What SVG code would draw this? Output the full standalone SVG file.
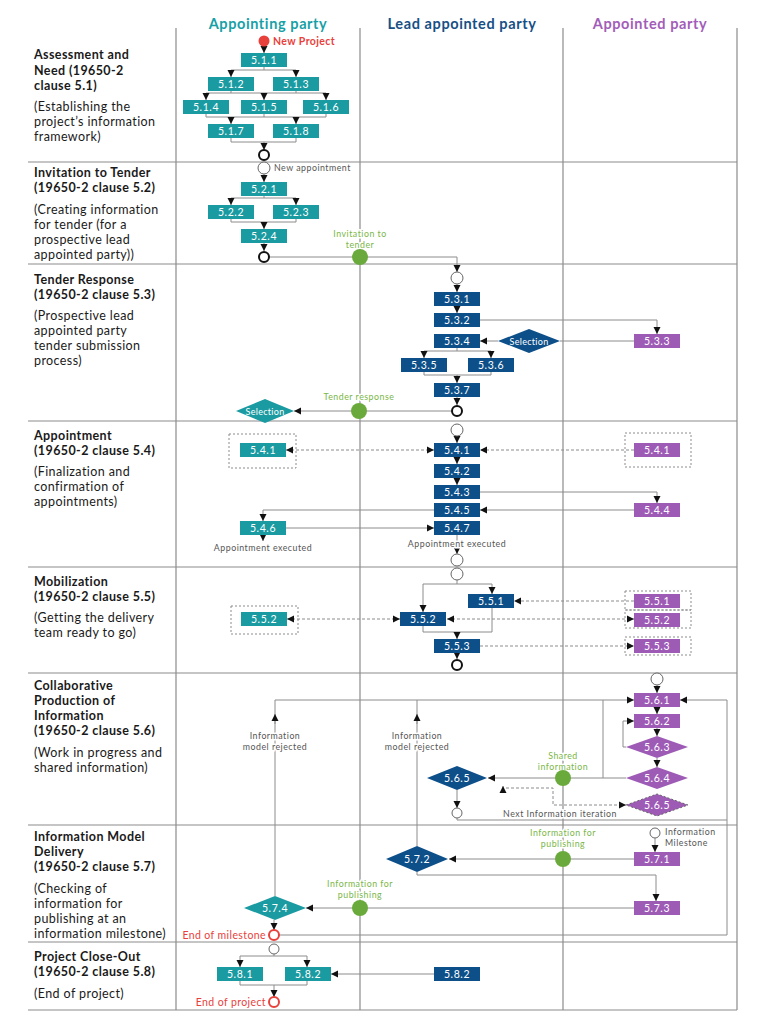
<svg xmlns="http://www.w3.org/2000/svg" width="768" height="1024" viewBox="0 0 768 1024">
<defs>
<style>
text{font-family:Lato,"Open Sans",sans-serif}
.sep{stroke:#8c8c8c;stroke-width:1.2;fill:none}
.c{stroke:#8c8c8c;stroke-width:1;fill:none}
.a{stroke:#8c8c8c;stroke-width:1;fill:none;marker-end:url(#ah)}
.d{stroke:#8c8c8c;stroke-width:1;fill:none;stroke-dasharray:3 2}
.db{stroke:#8c8c8c;stroke-width:1;fill:none;stroke-dasharray:2 2}
.t{fill:#1a9aa1}
.b{fill:#0d4f88}
.p{fill:#9d5bb5}
.nl{fill:#fff;font-size:10.5px;letter-spacing:0.6px;text-anchor:middle}
.sl{fill:#fff;font-size:9px;letter-spacing:0.3px;text-anchor:middle}
.h{font-size:14.5px;font-weight:bold;letter-spacing:0.6px;text-anchor:middle}
.st{font-size:12.5px;font-weight:bold;fill:#1a1a1a;letter-spacing:0.4px}
.sd{font-size:12.5px;fill:#1a1a1a;letter-spacing:0.4px}
.g{fill:#7ab648;font-size:8.8px;letter-spacing:0.5px;text-anchor:middle;stroke:#fff;stroke-width:3;paint-order:stroke}
.gl{fill:#555;font-size:8.8px;letter-spacing:0.5px;text-anchor:middle;stroke:#fff;stroke-width:3;paint-order:stroke}
.sm{fill:#555;font-size:8.8px;letter-spacing:0.5px}
.r{fill:#e8413c;font-size:10.5px;letter-spacing:0.4px}
.gc{fill:#6aaa3c}
.sc{fill:#fff;stroke:#666;stroke-width:1}
.ec{fill:#fff;stroke:#111;stroke-width:2}
.rc{fill:#fff;stroke:#e8413c;stroke-width:2}
</style>
<marker id="ah" markerWidth="8" markerHeight="8" refX="7" refY="4" orient="auto-start-reverse" markerUnits="userSpaceOnUse"><path d="M0,0.5 L7,4 L0,7.5 z" fill="#111"/></marker>
</defs>
<rect width="768" height="1024" fill="#fff"/>

<g id="grid">
<path class="sep" d="M176,28V1010M360,28V1010M563,28V1010M737,28V1010"/>
<path class="sep" d="M28,162H737M28,264H737M28,421H737M28,567H737M28,673H737M28,825H737M28,942H737M28,1010H737"/>
</g>

<g id="headers">
<text class="h" x="268" y="29" fill="#17a0a6">Appointing party</text>
<text class="h" x="462" y="29" fill="#174f85">Lead appointed party</text>
<text class="h" x="650" y="29" fill="#a25db8">Appointed party</text>
</g>

<g id="stages">
<text class="st" x="34" y="59">Assessment and</text>
<text class="st" x="34" y="75">Need (19650-2</text>
<text class="st" x="34" y="90">clause 5.1)</text>
<text class="sd" x="34" y="111">(Establishing the</text>
<text class="sd" x="34" y="126">project’s information</text>
<text class="sd" x="34" y="141">framework)</text>

<text class="st" x="34" y="177">Invitation to Tender</text>
<text class="st" x="34" y="192">(19650-2 clause 5.2)</text>
<text class="sd" x="34" y="214">(Creating information</text>
<text class="sd" x="34" y="229">for tender (for a</text>
<text class="sd" x="34" y="244">prospective lead</text>
<text class="sd" x="34" y="259">appointed party))</text>

<text class="st" x="34" y="284">Tender Response</text>
<text class="st" x="34" y="299">(19650-2 clause 5.3)</text>
<text class="sd" x="34" y="320">(Prospective lead</text>
<text class="sd" x="34" y="335">appointed party</text>
<text class="sd" x="34" y="350">tender submission</text>
<text class="sd" x="34" y="365">process)</text>

<text class="st" x="34" y="440">Appointment</text>
<text class="st" x="34" y="455">(19650-2 clause 5.4)</text>
<text class="sd" x="34" y="476">(Finalization and</text>
<text class="sd" x="34" y="491">confirmation of</text>
<text class="sd" x="34" y="506">appointments)</text>

<text class="st" x="34" y="586">Mobilization</text>
<text class="st" x="34" y="601">(19650-2 clause 5.5)</text>
<text class="sd" x="34" y="622">(Getting the delivery</text>
<text class="sd" x="34" y="637">team ready to go)</text>

<text class="st" x="34" y="690">Collaborative</text>
<text class="st" x="34" y="705">Production of</text>
<text class="st" x="34" y="720">Information</text>
<text class="st" x="34" y="735">(19650-2 clause 5.6)</text>
<text class="sd" x="34" y="757">(Work in progress and</text>
<text class="sd" x="34" y="772">shared information)</text>

<text class="st" x="34" y="841">Information Model</text>
<text class="st" x="34" y="856">Delivery</text>
<text class="st" x="34" y="871">(19650-2 clause 5.7)</text>
<text class="sd" x="34" y="893">(Checking of</text>
<text class="sd" x="34" y="908">information for</text>
<text class="sd" x="34" y="923">publishing at an</text>
<text class="sd" x="34" y="938">information milestone)</text>

<text class="st" x="34" y="961">Project Close-Out</text>
<text class="st" x="34" y="976">(19650-2 clause 5.8)</text>
<text class="sd" x="34" y="998">(End of project)</text>
</g>

<g id="connectors">
<path class="a" d="M264,46V53"/>
<path class="c" d="M264,67V70M231,70H296"/>
<path class="a" d="M231,70V77"/><path class="a" d="M296,70V77"/>
<path class="c" d="M231,91V93M296,91V93M206,93H326"/>
<path class="a" d="M206,93V100"/><path class="a" d="M264,93V100"/><path class="a" d="M326,93V100"/>
<path class="c" d="M206,114V117M264,114V117M326,114V117M206,117H326"/>
<path class="a" d="M231,117V124"/><path class="a" d="M296,117V124"/>
<path class="c" d="M231,138V142M296,138V142M231,142H296"/>
<path class="a" d="M264,142V150"/>
<path class="a" d="M264,174V182"/>
<path class="c" d="M264,196V198M231,198H296"/>
<path class="a" d="M231,198V205"/><path class="a" d="M296,198V205"/>
<path class="c" d="M231,219V222M296,219V222M231,222H296"/>
<path class="a" d="M264,222V229"/>
<path class="a" d="M264,243V251"/>
<path class="a" d="M269,257H457V272"/>
<path class="a" d="M457,284V292"/>
<path class="a" d="M457,306V313"/>
<path class="a" d="M480,320H657V334"/>
<path class="c" d="M634,341H560"/>
<path class="a" d="M498,341H480"/>
<path class="c" d="M457,348V351M424,351H491"/>
<path class="a" d="M424,351V358"/><path class="a" d="M491,351V358"/>
<path class="c" d="M424,372V375M491,372V375M424,375H491"/>
<path class="a" d="M457,375V383"/>
<path class="a" d="M457,397V405"/>
<path class="a" d="M451,411H294"/>
<path class="a" d="M457,436V443"/>
<path class="a" d="M457,457V464"/>
<path class="a" d="M457,478V485"/>
<path class="a" d="M480,492H657V503"/>
<path class="a" d="M634,510H480"/>
<path class="a" d="M434,510H263V521"/>
<path class="a" d="M286,528H434"/>
<path class="a" d="M263,535V541"/>
<path class="a" d="M457,535V554"/>
<path class="d" d="M286,450H434" marker-start="url(#ah)" marker-end="url(#ah)"/>
<path class="d" d="M634,450H480" marker-end="url(#ah)"/>
<path class="c" d="M457,580V584M423,584H492"/>
<path class="a" d="M423,584V612"/>
<path class="a" d="M492,584V594"/>
<path class="c" d="M423,626V632H492V608"/>
<path class="a" d="M457,632V639"/>
<path class="a" d="M457,653V659"/>
<path class="d" d="M287,619H400" marker-start="url(#ah)" marker-end="url(#ah)"/>
<path class="d" d="M447,619H634" marker-start="url(#ah)" marker-end="url(#ah)"/>
<path class="d" d="M634,601H514" marker-end="url(#ah)"/>
<path class="d" d="M480,646H634" marker-end="url(#ah)"/>
<path class="a" d="M657,685V693"/>
<path class="a" d="M657,707V714"/>
<path class="a" d="M657,728V736"/>
<path class="a" d="M657,758V767"/>
<path class="a" d="M626,747H623V721H634"/>
<path class="a" d="M275,896V700H634"/>
<path class="c" d="M417,846V700"/>
<path class="a" d="M275,724V714"/>
<path class="a" d="M417,724V714"/>
<path class="c" d="M603,700V778"/>
<path class="a" d="M727,700H680"/>
<path class="a" d="M626,778H488"/>
<path class="d" d="M503,786V788H553V805H626" marker-start="url(#ah)" marker-end="url(#ah)"/>
<path class="a" d="M457,790V808"/>
<path class="c" d="M457,818V820H727M727,700V935H279"/>
<path class="a" d="M655,838V852"/>
<path class="a" d="M634,859H449"/>
<path class="a" d="M417,872V875H656V901"/>
<path class="a" d="M634,908H306"/>
<path class="a" d="M274,920V930"/>
<path class="c" d="M274,954V956M240,956H307"/>
<path class="a" d="M240,956V967"/><path class="a" d="M307,956V967"/>
<path class="c" d="M240,981V985M307,981V985M240,985H307"/>
<path class="a" d="M274,985V997"/>
<path class="a" d="M434,974H331"/>
</g>

<g id="events">
<circle cx="264" cy="41" r="5.5" fill="#e8413c"/>
<text class="r" x="273" y="45" font-weight="bold" font-size="12">New Project</text>
<circle class="ec" cx="264" cy="155" r="5"/>
<circle class="sc" cx="264" cy="168" r="6"/>
<text class="sm" x="274" y="171">New appointment</text>
<circle class="ec" cx="264" cy="257" r="5"/>
<circle class="sc" cx="457" cy="278" r="6"/>
<circle class="ec" cx="457" cy="411" r="5"/>
<circle class="sc" cx="457" cy="430" r="6"/>
<circle class="sc" cx="457" cy="560" r="6"/>
<circle class="sc" cx="457" cy="574" r="6"/>
<circle class="ec" cx="457" cy="665" r="5"/>
<circle class="sc" cx="657" cy="679" r="6"/>
<circle class="sc" cx="457" cy="813" r="5"/>
<circle class="sc" cx="655" cy="833" r="5"/>
<text class="sm" x="665" y="835">Information</text>
<text class="sm" x="665" y="846">Milestone</text>
<circle class="rc" cx="274" cy="935" r="5"/>
<text class="r" x="266" y="939" text-anchor="end">End of milestone</text>
<circle class="sc" cx="274" cy="949" r="5"/>
<circle class="rc" cx="274" cy="1002" r="5"/>
<text class="r" x="266" y="1006" text-anchor="end">End of project</text>
</g>

<g id="exchanges">
<text class="g" x="360" y="237">Invitation to</text>
<text class="g" x="360" y="248">tender</text>
<circle class="gc" cx="360" cy="257" r="8"/>
<text class="g" x="359" y="400">Tender response</text>
<circle class="gc" cx="359" cy="411" r="8"/>
<text class="g" x="563" y="759">Shared</text>
<text class="g" x="563" y="770">information</text>
<circle class="gc" cx="563" cy="778" r="8"/>
<text class="g" x="563" y="836">Information for</text>
<text class="g" x="563" y="847">publishing</text>
<circle class="gc" cx="563" cy="859" r="8"/>
<text class="g" x="360" y="887">Information for</text>
<text class="g" x="360" y="898">publishing</text>
<circle class="gc" cx="360" cy="908" r="8"/>
<text class="gl" x="263" y="551">Appointment executed</text>
<text class="gl" x="457" y="547">Appointment executed</text>
<text class="gl" x="275" y="739">Information</text>
<text class="gl" x="275" y="750">model rejected</text>
<text class="gl" x="417" y="739">Information</text>
<text class="gl" x="417" y="750">model rejected</text>
<text class="gl" x="560" y="817">Next Information iteration</text>
</g>

<g id="n5-1-1"><rect class="t" x="241" y="53" width="46" height="14"/><text class="nl" x="264" y="64">5.1.1</text></g>
<g id="n5-1-2"><rect class="t" x="208" y="77" width="46" height="14"/><text class="nl" x="231" y="88">5.1.2</text></g>
<g id="n5-1-3"><rect class="t" x="273" y="77" width="46" height="14"/><text class="nl" x="296" y="88">5.1.3</text></g>
<g id="n5-1-4"><rect class="t" x="183" y="100" width="46" height="14"/><text class="nl" x="206" y="111">5.1.4</text></g>
<g id="n5-1-5"><rect class="t" x="241" y="100" width="46" height="14"/><text class="nl" x="264" y="111">5.1.5</text></g>
<g id="n5-1-6"><rect class="t" x="303" y="100" width="46" height="14"/><text class="nl" x="326" y="111">5.1.6</text></g>
<g id="n5-1-7"><rect class="t" x="208" y="124" width="46" height="14"/><text class="nl" x="231" y="135">5.1.7</text></g>
<g id="n5-1-8"><rect class="t" x="273" y="124" width="46" height="14"/><text class="nl" x="296" y="135">5.1.8</text></g>

<g id="n5-2-1"><rect class="t" x="241" y="182" width="46" height="14"/><text class="nl" x="264" y="193">5.2.1</text></g>
<g id="n5-2-2"><rect class="t" x="208" y="205" width="46" height="14"/><text class="nl" x="231" y="216">5.2.2</text></g>
<g id="n5-2-3"><rect class="t" x="273" y="205" width="46" height="14"/><text class="nl" x="296" y="216">5.2.3</text></g>
<g id="n5-2-4"><rect class="t" x="241" y="229" width="46" height="14"/><text class="nl" x="264" y="240">5.2.4</text></g>

<g id="n5-3-1"><rect class="b" x="434" y="292" width="46" height="14"/><text class="nl" x="457" y="303">5.3.1</text></g>
<g id="n5-3-2"><rect class="b" x="434" y="313" width="46" height="14"/><text class="nl" x="457" y="324">5.3.2</text></g>
<g id="n5-3-4"><rect class="b" x="434" y="334" width="46" height="14"/><text class="nl" x="457" y="345">5.3.4</text></g>
<g id="n5-3-5"><rect class="b" x="401" y="358" width="46" height="14"/><text class="nl" x="424" y="369">5.3.5</text></g>
<g id="n5-3-6"><rect class="b" x="468" y="358" width="46" height="14"/><text class="nl" x="491" y="369">5.3.6</text></g>
<g id="n5-3-7"><rect class="b" x="434" y="383" width="46" height="14"/><text class="nl" x="457" y="394">5.3.7</text></g>
<g id="n5-3-3"><rect class="p" x="634" y="334" width="46" height="14"/><text class="nl" x="657" y="345">5.3.3</text></g>
<g id="sel-lead"><polygon class="b" points="498,341 529,329 560,341 529,353"/><text class="sl" x="529" y="344.5">Selection</text></g>
<g id="sel-app"><polygon class="t" points="236,411 265,399 294,411 265,423"/><text class="sl" x="265" y="414.5">Selection</text></g>

<g id="n5-4-1a"><rect class="db" x="229" y="434" width="67" height="34"/><rect class="t" x="240" y="443" width="46" height="14"/><text class="nl" x="263" y="454">5.4.1</text></g>
<g id="n5-4-1"><rect class="b" x="434" y="443" width="46" height="14"/><text class="nl" x="457" y="454">5.4.1</text></g>
<g id="n5-4-2"><rect class="b" x="434" y="464" width="46" height="14"/><text class="nl" x="457" y="475">5.4.2</text></g>
<g id="n5-4-3"><rect class="b" x="434" y="485" width="46" height="14"/><text class="nl" x="457" y="496">5.4.3</text></g>
<g id="n5-4-5"><rect class="b" x="434" y="503" width="46" height="14"/><text class="nl" x="457" y="514">5.4.5</text></g>
<g id="n5-4-7"><rect class="b" x="434" y="521" width="46" height="14"/><text class="nl" x="457" y="532">5.4.7</text></g>
<g id="n5-4-6"><rect class="t" x="240" y="521" width="46" height="14"/><text class="nl" x="263" y="532">5.4.6</text></g>
<g id="n5-4-1p"><rect class="db" x="625" y="433" width="66" height="34"/><rect class="p" x="634" y="443" width="46" height="14"/><text class="nl" x="657" y="454">5.4.1</text></g>
<g id="n5-4-4"><rect class="p" x="634" y="503" width="46" height="14"/><text class="nl" x="657" y="514">5.4.4</text></g>

<g id="n5-5-2a"><rect class="db" x="231" y="606" width="67" height="28"/><rect class="t" x="241" y="612" width="46" height="14"/><text class="nl" x="264" y="623">5.5.2</text></g>
<g id="n5-5-1"><rect class="b" x="468" y="594" width="46" height="14"/><text class="nl" x="491" y="605">5.5.1</text></g>
<g id="n5-5-2"><rect class="b" x="400" y="612" width="46" height="14"/><text class="nl" x="423" y="623">5.5.2</text></g>
<g id="n5-5-3"><rect class="b" x="434" y="639" width="46" height="14"/><text class="nl" x="457" y="650">5.5.3</text></g>
<g id="n5-5-1p"><rect class="db" x="625" y="591" width="66" height="19"/><rect class="p" x="634" y="594" width="46" height="14"/><text class="nl" x="657" y="605">5.5.1</text></g>
<g id="n5-5-2p"><rect class="db" x="625" y="610" width="66" height="18"/><rect class="p" x="634" y="613" width="46" height="14"/><text class="nl" x="657" y="624">5.5.2</text></g>
<g id="n5-5-3p"><rect class="db" x="625" y="637" width="66" height="18"/><rect class="p" x="634" y="639" width="46" height="14"/><text class="nl" x="657" y="650">5.5.3</text></g>

<g id="n5-6-1"><rect class="p" x="634" y="693" width="46" height="14"/><text class="nl" x="657" y="704">5.6.1</text></g>
<g id="n5-6-2"><rect class="p" x="634" y="714" width="46" height="14"/><text class="nl" x="657" y="725">5.6.2</text></g>
<g id="n5-6-3"><polygon class="p" points="626,747 657,736 688,747 657,758"/><text class="nl" x="657" y="750.5">5.6.3</text></g>
<g id="n5-6-4"><polygon class="p" points="626,778 657,767 688,778 657,789"/><text class="nl" x="657" y="781.5">5.6.4</text></g>
<g id="n5-6-5p"><polygon class="p" points="626,805 657,794 688,805 657,816" stroke="#666" stroke-dasharray="2 2"/><text class="nl" x="657" y="808.5">5.6.5</text></g>
<g id="n5-6-5"><polygon class="b" points="427,778 457,766 487,778 457,790"/><text class="nl" x="457" y="781.5">5.6.5</text></g>

<g id="n5-7-1"><rect class="p" x="634" y="852" width="46" height="14"/><text class="nl" x="657" y="863">5.7.1</text></g>
<g id="n5-7-2"><polygon class="b" points="386,859 417,846 448,859 417,872"/><text class="nl" x="417" y="862.5">5.7.2</text></g>
<g id="n5-7-3"><rect class="p" x="634" y="901" width="46" height="14"/><text class="nl" x="657" y="912">5.7.3</text></g>
<g id="n5-7-4"><polygon class="t" points="244,908 275,896 306,908 275,920"/><text class="nl" x="275" y="911.5">5.7.4</text></g>

<g id="n5-8-1"><rect class="t" x="217" y="967" width="46" height="14"/><text class="nl" x="240" y="978">5.8.1</text></g>
<g id="n5-8-2"><rect class="t" x="285" y="967" width="46" height="14"/><text class="nl" x="308" y="978">5.8.2</text></g>
<g id="n5-8-2b"><rect class="b" x="434" y="967" width="46" height="14"/><text class="nl" x="457" y="978">5.8.2</text></g>
</svg>
